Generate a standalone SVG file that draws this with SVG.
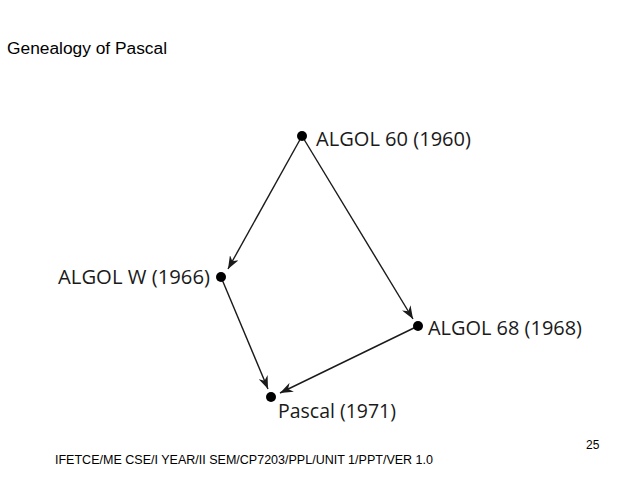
<svg xmlns="http://www.w3.org/2000/svg" width="638" height="478" viewBox="0 0 638 478">
<style>
.lbl{font-family:"Open Sans","Liberation Sans",sans-serif;font-size:20px;fill:#1a1a1a}
.hdr{font-family:"Liberation Sans",Arial,sans-serif;fill:#000}
.edge{stroke:#1a1a1a;stroke-width:1.4;fill:none;marker-end:url(#ah)}
.dot{fill:#000}
</style>
<defs>
<marker id="ah" markerWidth="14" markerHeight="10" refX="13" refY="5" orient="auto" markerUnits="userSpaceOnUse">
<path d="M0,0 L13,5 L0,10 L4,5 Z" fill="#1a1a1a"/>
</marker>
</defs>
<rect width="638" height="478" fill="#fff"/>
<text class="hdr" x="7" y="54" font-size="16" textLength="160" lengthAdjust="spacingAndGlyphs">Genealogy of Pascal</text>
<g id="connectors">
<line class="edge" x1="302" y1="136" x2="228" y2="269"/>
<line class="edge" x1="302" y1="136" x2="413" y2="319"/>
<line class="edge" x1="221" y1="277" x2="268" y2="389"/>
<line class="edge" x1="418" y1="326" x2="280" y2="393"/>
</g>
<g id="algol60">
<circle class="dot" cx="302" cy="136" r="5"/>
<text class="lbl" x="316" y="146" textLength="155" lengthAdjust="spacingAndGlyphs">ALGOL 60 (1960)</text>
</g>
<g id="algolw">
<circle class="dot" cx="221" cy="277" r="5"/>
<text class="lbl" x="58" y="284" textLength="152" lengthAdjust="spacingAndGlyphs">ALGOL W (1966)</text>
</g>
<g id="algol68">
<circle class="dot" cx="418" cy="326" r="5"/>
<text class="lbl" x="428" y="335" textLength="154" lengthAdjust="spacingAndGlyphs">ALGOL 68 (1968)</text>
</g>
<g id="pascal">
<circle class="dot" cx="271" cy="397" r="5"/>
<text class="lbl" x="278" y="418" textLength="118" lengthAdjust="spacingAndGlyphs">Pascal (1971)</text>
</g>
<text class="hdr" x="586" y="449" font-size="12">25</text>
<text class="hdr" x="55" y="464" font-size="12" textLength="378" lengthAdjust="spacingAndGlyphs">IFETCE/ME CSE/I YEAR/II SEM/CP7203/PPL/UNIT 1/PPT/VER 1.0</text>
</svg>
